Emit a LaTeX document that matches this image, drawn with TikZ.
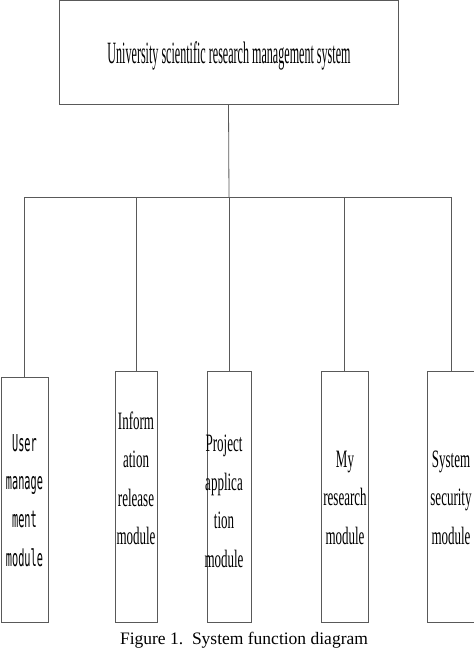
\documentclass[tikz,border=0pt]{standalone}
\usepackage{fontspec}
\setmainfont{Liberation Serif}
\newfontfamily\topfont[FakeStretch=0.39]{Liberation Serif}
\newfontfamily\modfont[FakeStretch=0.52]{Liberation Serif}
\newfontfamily\modmono[FakeStretch=0.44]{DejaVu Sans Mono}

\begin{document}
\begin{tikzpicture}[x = 1pt, y = -1pt,
	box/.style = {draw = black!65, line width = 0.8pt, inner sep = 0pt},
	modbox/.style = {box, minimum height = 251pt},
	modtext/.style = {align = center, inner sep = 0pt, font = \modfont\fontsize{25}{38.5}\selectfont},
	wire/.style = {draw = black!65, line width = 0.8pt}]
	\useasboundingbox (0,0) rectangle (474,649);

	\path
	(228.5,52.25) node[box, minimum width = 339pt, minimum height = 103.5pt](SYS){}
	(229,63.5) node[inner sep = 0pt, anchor = base, font = \topfont\fontsize{31}{31}\selectfont](SYSt){University scientific research management system}

	(24.5,499.5) node[box, minimum width = 47pt, minimum height = 245pt](M1){}
	(24.5,500.5) node[modtext, font = \modmono\fontsize{23.3}{38.3}\selectfont](M1t){User\\manage\\ment\\module}
	(136,496.5) node[modbox, minimum width = 42pt](M2){}
	(136,478.5) node[modtext](M2t){Inform\\ation\\release\\module}
	(229,496.5) node[modbox, minimum width = 44pt](M3){}
	(224,501.5) node[modtext](M3t){Project\\applica\\tion\\module}
	(344.5,496.5) node[modbox, minimum width = 47pt](M4){}
	(345,497.5) node[modtext](M4t){My\\research\\module}
	(451,496.5) node[modbox, minimum width = 48pt](M5){}
	(451,497.5) node[modtext](M5t){System\\security\\module}

	(244,644) node[inner sep = 0pt, anchor = base, font = \fontsize{17.5}{20}\selectfont](CAP){Figure 1.\ \ System function diagram};

	\coordinate (bus) at (229,197);
	\draw[wire] (SYS.south) -- (bus);
	\draw[wire] (M1.north) |- (bus);
	\draw[wire] (M2.north) |- (bus);
	\draw[wire] (M3.north) -- (bus);
	\draw[wire] (M4.north) |- (bus);
	\draw[wire] (M5.north) |- (bus);
\end{tikzpicture}
\end{document}
